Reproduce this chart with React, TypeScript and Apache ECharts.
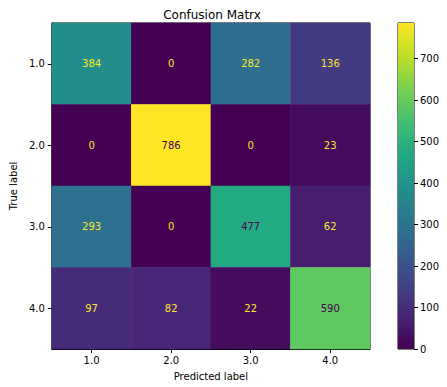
import React, { useEffect, useRef } from "react";
import * as echarts from "echarts";

const classLabels = ["1.0", "2.0", "3.0", "4.0"];
const row1 = [384, 0, 282, 136];
const row2 = [0, 786, 0, 23];
const row3 = [293, 0, 477, 62];
const row4 = [97, 82, 22, 590];
const matrix = [row1, row2, row3, row4];
const colorbarMax = 786;
const viridis = [
  "#440154", "#482475", "#414487", "#355f8d", "#2a788e", "#21918c",
  "#22a884", "#44bf70", "#7ad151", "#bddf26", "#fde725",
];

export default function App() {
  const ref = useRef<HTMLDivElement>(null);
  useEffect(() => {
    if (!ref.current) return;
    const chart = echarts.init(ref.current, null, { renderer: "svg" });
    const vmin = 0;
    const vmax = Math.max(...matrix.flat());
    const thresh = (vmin + vmax) / 2;
    const data: any[] = [];
    matrix.forEach((row, yi) =>
      row.forEach((v, xi) => {
        data.push({
          value: [xi, yi, v],
          label: { color: v < thresh ? "#fde725" : "#440154" },
        });
      })
    );
    const font = "DejaVu Sans";
    chart.setOption({
      animation: false,
      backgroundColor: "#fff",
      textStyle: { fontFamily: font },
      title: {
        text: "Confusion Matrx",
        left: 207,
        textAlign: "center",
        top: 4,
        textStyle: { fontSize: 12, fontWeight: "normal", color: "#000", fontFamily: font },
      },
      grid: [
        { left: 44, top: 23, width: 326, height: 326, show: true, borderColor: "#000", borderWidth: 1, backgroundColor: "transparent" },
        { left: 398, top: 23, width: 16, height: 326, show: true, borderColor: "#000", borderWidth: 1, backgroundColor: "transparent" },
      ],
      xAxis: [
        {
          gridIndex: 0,
          type: "category",
          data: classLabels,
          axisLine: { show: true, lineStyle: { color: "#000" } },
          axisTick: { show: true, alignWithLabel: true, length: 4, lineStyle: { color: "#000" } },
          axisLabel: { color: "#000", fontSize: 10, margin: 6, fontFamily: font },
          splitLine: { show: false },
          name: "Predicted label",
          nameLocation: "middle",
          nameGap: 22,
          nameTextStyle: { color: "#000", fontSize: 10, fontFamily: font },
        },
        { gridIndex: 1, type: "category", data: [""], show: false },
      ],
      yAxis: [
        {
          gridIndex: 0,
          type: "category",
          data: classLabels,
          inverse: true,
          axisLine: { show: true, lineStyle: { color: "#000" } },
          axisTick: { show: true, alignWithLabel: true, length: 4, lineStyle: { color: "#000" } },
          axisLabel: { color: "#000", fontSize: 10, margin: 7, fontFamily: font },
          splitLine: { show: false },
          name: "True label",
          nameLocation: "middle",
          nameGap: 32,
          nameTextStyle: { color: "#000", fontSize: 10, fontFamily: font },
        },
        {
          gridIndex: 1,
          type: "value",
          position: "right",
          min: 0,
          max: colorbarMax,
          interval: 100,
          axisLine: { show: false },
          axisTick: { show: true, length: 4, lineStyle: { color: "#000" } },
          axisLabel: { color: "#000", fontSize: 10, margin: 6, fontFamily: font, showMaxLabel: false },
          splitLine: { show: false },
        },
      ],
      visualMap: {
        show: false,
        seriesIndex: 0,
        dimension: 2,
        min: vmin,
        max: colorbarMax,
        inRange: { color: viridis },
      },
      series: [
        {
          type: "heatmap",
          xAxisIndex: 0,
          yAxisIndex: 0,
          data,
          label: { show: true, fontSize: 10, fontFamily: font },
          itemStyle: { borderWidth: 0 },
          emphasis: { disabled: true },
        },
        {
          type: "bar",
          xAxisIndex: 1,
          yAxisIndex: 1,
          data: [colorbarMax],
          barWidth: "100%",
          silent: true,
          itemStyle: {
            color: {
              type: "linear",
              x: 0, y: 1, x2: 0, y2: 0,
              colorStops: viridis.map((c, i) => ({ offset: i / (viridis.length - 1), color: c })),
            },
          },
        },
      ],
    });
    return () => chart.dispose();
  }, []);
  return (
    <div
      ref={ref}
      style={{ position: "fixed", left: 0, top: 0, width: 447, height: 387, background: "#fff" }}
    />
  );
}
